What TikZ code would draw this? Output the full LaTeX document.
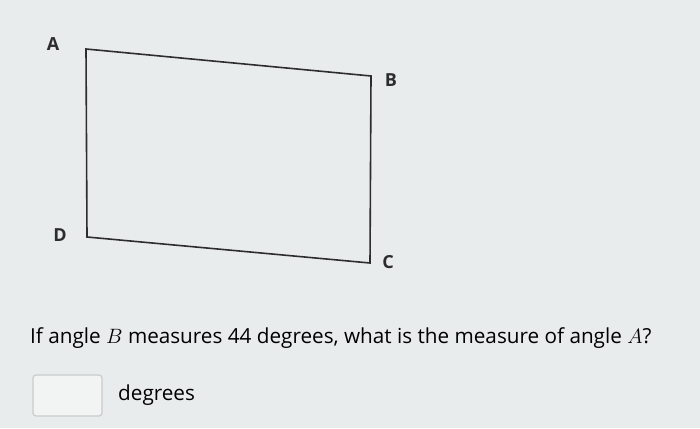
\documentclass[tikz,border=0pt]{standalone}
\usepackage{fontspec}
\setmainfont{Open Sans}
\usetikzlibrary{positioning}
\definecolor{paper}{RGB}{233,236,236}
\definecolor{edge}{RGB}{45,45,48}
\definecolor{boxline}{RGB}{200,204,204}
\tikzset{vlabel/.style={font=\fontsize{18}{21}\selectfont\bfseries, text=edge}}

\begin{document}
\begin{tikzpicture}[x=1pt,y=-1pt]
  \fill[paper] (0,0) rectangle (700,428);
  \useasboundingbox (0,0) rectangle (700,428);
  % the quadrilateral
  \coordinate (A) at (86,49);
  \coordinate (B) at (371,76);
  \coordinate (C) at (370,263);
  \coordinate (D) at (87,237);
  \draw[edge, line width=1.6pt, line join=miter] (A) -- (B) -- (C) -- (D) -- cycle;
  \foreach \v/\x/\y in {A/53/44, B/391/80, D/60/235, C/388/262}
    \node[vlabel] (l\v) at (\x,\y) {\v};
  % question
  \node[anchor=base west, inner sep=0pt, font=\fontsize{20.7}{25}\selectfont] (question) at (30,343)
    {If angle $B$ measures 44 degrees, what is the measure of angle $A$?};
  \node[draw=boxline, line width=1.2pt, fill=paper!60!white, rounded corners=3pt,
        minimum width=69pt, minimum height=41pt, inner sep=0pt] (answer) at (67.5,395.5) {};
  \node[anchor=west, inner sep=0pt, font=\fontsize{20.7}{25}\selectfont] (unit) at (118,395) {degrees};
\end{tikzpicture}
\end{document}
